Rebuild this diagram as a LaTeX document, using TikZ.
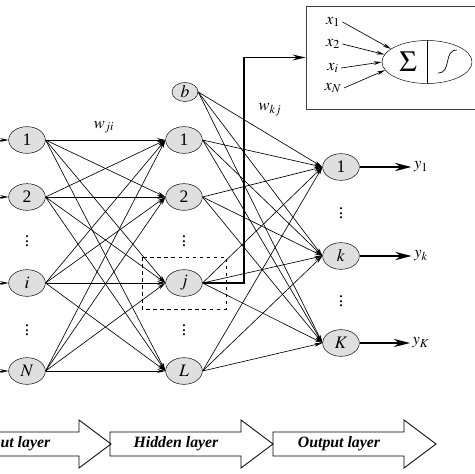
\documentclass[tikz,border=0pt]{standalone}
\usepackage{mathptmx}
\usepackage{fontspec}
\setmainfont{Liberation Serif}
\usetikzlibrary{arrows.meta,shapes.geometric}
\begin{document}
\begin{tikzpicture}[x=0.03cm,y=-0.03cm]
      \tikzset{unit/.style={draw, ellipse, fill=gray!25, inner sep=0pt, minimum width=1.1cm, minimum height=0.8cm, font=\fontsize{15}{17}\selectfont},
               syn/.style={-{Stealth[length=7pt,width=3.2pt]}, line width=0.55pt},
               yout/.style={-{Stealth[length=14pt,width=7pt]}, line width=1.3pt},
               vdot/.style={inner sep=0pt, font=\fontsize{15}{17}\selectfont},
               lab/.style={inner sep=2pt, font=\fontsize{14}{16}\selectfont}}
      \useasboundingbox (0,0) rectangle (474,474);
%% Input layer
      	\node[unit] (i1) at (27,140) {1};
      	\node[unit] (i2) at (27,197) {2};
      	\node[vdot] (id1) at (27,238) {$\vdots$};
      	\node[unit] (ii) at (27,283) {$i$};
      	\node[vdot] (id2) at (27,327) {$\vdots$};
      	\node[unit] (iN) at (27,371) {$N$};
%% Hidden layer
      	\node[unit, minimum width=0.78cm, minimum height=0.57cm] (b) at (185,92) {$b$};
      	\node[unit] (h1) at (184,140) {1};
      	\node[unit] (h2) at (184,197) {2};
      	\node[vdot] (hd1) at (184,238) {$\vdots$};
      	\node[unit] (hj) at (184,283) {$j$};
      	\node[vdot] (hd2) at (184,327) {$\vdots$};
      	\node[unit] (hL) at (184,371) {$L$};
%% Output layer
      	\node[unit] (o1) at (341,167) {1};
      	\node[vdot] (od1) at (341,210) {$\vdots$};
      	\node[unit] (ok) at (341,256) {$k$};
      	\node[vdot] (od2) at (341,298) {$\vdots$};
      	\node[unit] (oK) at (341,343) {$K$};
      	\node[lab] (y1) at (421,167) {$y_1$};
      	\node[lab] (yk) at (421,256) {$y_k$};
      	\node[lab] (yK) at (421,343) {$y_K$};
%% Weights
      	\node[lab] (wji) at (104,127) {$w_{ji}$};
      	\node[lab] (wkj) at (270,110) {$w_{kj}$};
%% Neuron detail
      	\node[draw=black!75, line width=0.7pt, minimum width=5.52cm, minimum height=3.09cm] (cell) at (398,57.5) {};
      	\node[draw, ellipse, inner sep=0pt, minimum width=2.7cm, minimum height=1.29cm] (sum) at (427,62) {};
      	\draw (sum.north) -- (sum.south);
      	\node[font=\fontsize{25}{27}\selectfont] (sigma) at (408,62) {$\Sigma$};
      	\draw[line width=0.6pt] (438,73) .. controls (452,73) and (443,50) .. (457,50);
      	\node[lab] (x1) at (333,22) {$x_1$};
      	\node[lab] (x2) at (333,44) {$x_2$};
      	\node[lab] (xi) at (333,68) {$x_i$};
      	\node[lab] (xN) at (333,88) {$x_N$};
      	\draw[syn] (x1.east) -- (sum.160);
      	\draw[syn] (x2.east) -- (sum.170);
      	\draw[syn] (xi.east) -- (sum.180);
      	\draw[syn] (xN.east) -- (sum.191);
%% Inputs from the left
      	\coordinate (s1) at (-15,140);
      	\coordinate (s2) at (-15,197);
      	\coordinate (si) at (-15,283);
      	\coordinate (sN) at (-15,371);
		\draw[syn] (s1) -- (i1.west);
		\draw[syn] (s2) -- (i2.west);
		\draw[syn] (si) -- (ii.west);
		\draw[syn] (sN) -- (iN.west);
%% Edges
		\foreach \s in {i1,i2,ii,iN}
		  \foreach \t in {h1,h2,hj,hL}
		    \draw[syn] (\s.east) -- (\t.west);
		\foreach \s in {b,h1,h2,hj,hL}
		  \foreach \t in {o1,ok,oK}
		    \draw[syn] (\s.east) -- (\t.west);
		\draw[yout] (o1.east) -- (y1.west);
		\draw[yout] (ok.east) -- (yk.west);
		\draw[yout] (oK.east) -- (yK.west);
%% Unit j to the neuron detail
		\draw[dashed, line width=0.6pt] (142,257) rectangle (226,309);
		\coordinate (turn) at (244,283);
		\draw[line width=1.5pt, -{Stealth[length=11pt,width=5pt]}] (hj.east) -- (turn) |- (cell.west);
%% Layer arrows
		\foreach \x/\name/\id in {-52/Input layer/in,110/Hidden layer/hid,273/Output layer/out}{
		  \draw[line width=0.7pt] (\x,432) -- (\x+131,432) -- (\x+131,420) -- (\x+163,444) -- (\x+131,468) -- (\x+131,456) -- (\x,456) -- cycle;
		  \node[font=\bfseries\itshape\fontsize{13.5}{15}\selectfont] (\id) at (\x+66,444) {\name};
		}
	\end{tikzpicture}
\end{document}
